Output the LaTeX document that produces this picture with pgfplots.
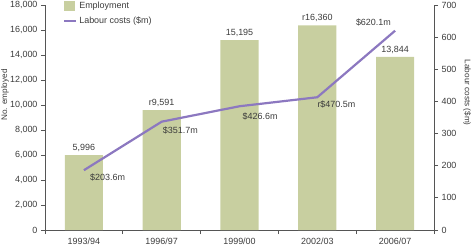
\documentclass[border=0pt]{standalone}
\usepackage{pgfplots}
\pgfplotsset{compat=1.18}
\usepackage{pgfplotstable}
\usepackage{fontspec}
\setmainfont{Liberation Sans}

\definecolor{barg}{RGB}{200,207,160}
\definecolor{linep}{RGB}{140,120,192}
\definecolor{axg}{RGB}{85,85,85}
\definecolor{txt}{RGB}{60,60,60}

% employment by year, labels as printed
\pgfplotstableread{
x emp lab
0 5996 5,996
1 9591 r9,591
2 15195 15,195
3 16360 r16,360
4 13844 13,844
}\emptab

% labour costs as drawn against the right axis
\pgfplotstableread{
x cost
0 186
1 337
2 385
3 413
4 620
}\costtab

\newcommand{\lbl}{\fontsize{9}{10.5}\selectfont}
\newcommand{\albl}{\fontsize{8.2}{9.5}\selectfont}

\pgfplotsset{
  base/.style={
    scale only axis, width=389bp, height=225bp,
    xmin=-0.5, xmax=4.5,
    tick align=outside, major tick length=4bp,
    axis line style={-, axg, line width=0.8bp},
    tick style={axg, line width=0.8bp},
    ticklabel style={font=\lbl, text=txt},
    /pgf/number format/assume math mode=true,
    /pgf/number format/1000 sep={,},
    clip=false,
  },
}

\begin{document}
\begin{tikzpicture}
\begin{axis}[base,
    ymin=0, ymax=18000,
    axis x line*=bottom, axis y line*=left,
    ytick={0,2000,...,18000}, scaled y ticks=false,
    xtick={-0.5,0.5,...,4.5}, x tick label as interval,
    xticklabels={1993/94,1996/97,1999/00,2002/03,2006/07},
    legend style={at={(rel axis cs:0.046,1.025)}, anchor=north west,
      draw=none, fill=none, inner sep=0pt, font=\lbl, text=txt,
      row sep=3bp},
    legend cell align=left,
]
\addplot[ybar, bar width=0.49, fill=barg, draw=none,
  nodes near coords, point meta=explicit symbolic,
  nodes near coords style={font=\lbl, text=txt, anchor=south},
  legend image code/.code={\fill[barg] (0bp,-5bp) rectangle (11bp,5bp);}]
  table[x=x, y=emp, meta=lab] {\emptab};
\addlegendentry{Employment}
\addlegendimage{linep, line width=2.2bp,
  legend image code/.code={\draw[linep, line width=2.2bp] (0bp,0bp) -- (12bp,0bp);}}
\addlegendentry{Labour costs (\$m)}
\node[rotate=90, font=\albl, text=txt] at (rel axis cs:-0.103,0.6) {No. employed};
\node[rotate=-90, font=\albl, text=txt] at (rel axis cs:1.085,0.61) {Labour costs (\$m)};
\end{axis}
\begin{axis}[base,
    ymin=0, ymax=700,
    axis x line=none, axis y line*=right,
    ytick={0,100,...,700},
]
\addplot[linep, line width=2.2bp] table[x=x, y=cost] {\costtab};
\begin{scope}[every node/.style={font=\lbl, text=txt, inner sep=0pt}]
\node[anchor=west, xshift=6bp, yshift=-7bp] at (axis cs:0,186) {\$203.6m};
\node[anchor=west, xshift=1bp, yshift=-9bp] at (axis cs:1,337) {\$351.7m};
\node[anchor=west, xshift=3bp, yshift=-10bp] at (axis cs:2,385) {\$426.6m};
\node[anchor=west, xshift=0bp, yshift=-7bp] at (axis cs:3,413) {r\$470.5m};
\node[anchor=east, xshift=-4bp, yshift=8bp] at (axis cs:4,620) {\$620.1m};
\end{scope}
\end{axis}
\pgfresetboundingbox
\useasboundingbox (-45bp,-19bp) rectangle (429bp,230bp);
\end{tikzpicture}
\end{document}
